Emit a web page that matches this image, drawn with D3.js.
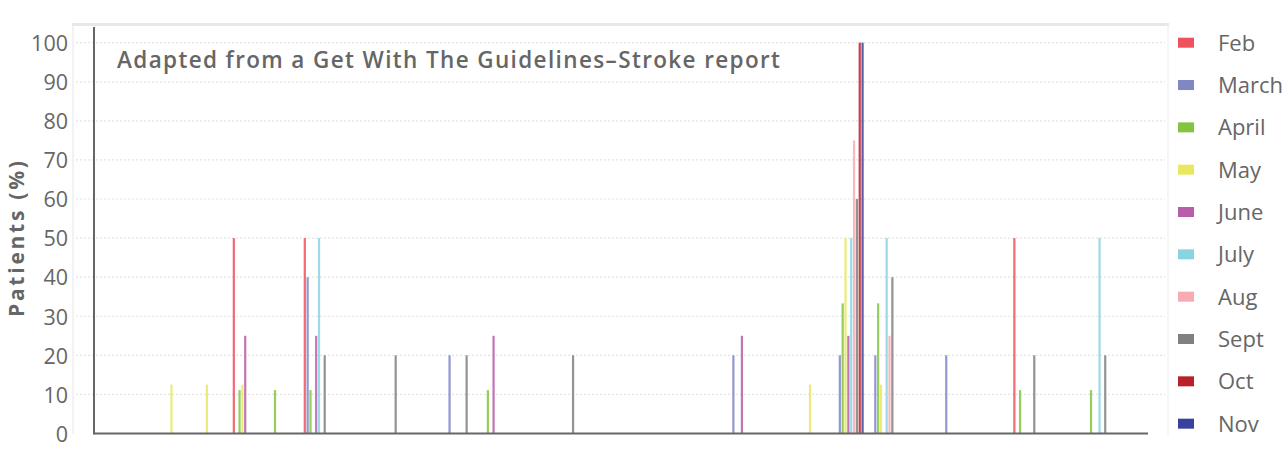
<!DOCTYPE html>
<html>
<head>
<meta charset="utf-8">
<script src="https://cdn.jsdelivr.net/npm/d3@7"></script>
<style>
  html, body { margin: 0; padding: 0; background: #ffffff; }
  svg { display: block; }
  text { font-family: "Open Sans", Lato, sans-serif; fill: #666666; }
</style>
</head>
<body>
<svg id="chart" width="1288" height="461"></svg>
<script>
// ---- data ----
const categories = ["1","2","3","4","5","6","7","8","9","10","11","12","13","14",
                    "15","16","17","18","19","20","21","22","23","24","25","26","27","28"];
const seriesNames = ["Feb","March","April","May","June","July","Aug","Sept","Oct","Nov"];
const seriesColors = ["#ef525d","#7f87c5","#84c440","#e9e862","#b85ea8","#8ad4e2","#f8abb0","#808080","#b92029","#3a419a"];
const feb   = [0,0,0,50,0,50,0,0,0,0, 0,0,0,0,0,0,0,0,0,0, 0,0,0,0,0,50,0,0];
const march = [0,0,0,0,0,40,0,0,0,20, 0,0,0,0,0,0,0,20,0,0, 20,20,0,20,0,0,0,0];
const april = [0,0,0,11.1,11.1,11.1,0,0,0,0, 11.1,0,0,0,0,0,0,0,0,0, 33.3,33.3,0,0,0,11.1,0,11.1];
const may   = [0,12.5,12.5,12.5,0,0,0,0,0,0, 0,0,0,0,0,0,0,0,0,12.5, 50,12.5,0,0,0,0,0,0];
const june  = [0,0,0,25,0,25,0,0,0,0, 25,0,0,0,0,0,0,25,0,0, 25,0,0,0,0,0,0,0];
const july  = [0,0,0,0,0,50,0,0,0,0, 0,0,0,0,0,0,0,0,0,0, 50,50,0,0,0,0,0,50];
const aug   = [0,0,0,0,0,0,0,0,0,0, 0,0,0,0,0,0,0,0,0,0, 75,25,0,0,0,0,0,0];
const sept  = [0,0,0,0,0,20,0,20,0,20, 0,0,20,0,0,0,0,0,0,0, 60,40,0,0,0,20,0,20];
const oct   = [0,0,0,0,0,0,0,0,0,0, 0,0,0,0,0,0,0,0,0,0, 100,0,0,0,0,0,0,0];
const nov   = [0,0,0,0,0,0,0,0,0,0, 0,0,0,0,0,0,0,0,0,0, 100,0,0,0,0,0,0,0];
const yTicks = [0,10,20,30,40,50,60,70,80,90,100];
const yTitle = "Patients (%)";
const note = "Adapted from a Get With The Guidelines\u2013Stroke report";

const seriesValues = [feb, march, april, may, june, july, aug, sept, oct, nov];

// ---- layout ----
const svg = d3.select("#chart");
const plot = { left: 94, right: 1147, top: 42.7, bottom: 433.5 };

const x0 = d3.scaleBand().domain(categories)
  .range([plot.left, plot.right]).paddingInner(0.2).paddingOuter(0.94).align(0.48);
const x1 = d3.scaleBand().domain(seriesNames)
  .range([0, x0.bandwidth()]).paddingInner(0.22).paddingOuter(0.1);
const y = d3.scaleLinear().domain([0, 100]).range([plot.bottom, plot.top]);
const color = d3.scaleOrdinal().domain(seriesNames).range(seriesColors);

// panel frame
svg.append("line").attr("x1", 72).attr("x2", 1169).attr("y1", 24.5).attr("y2", 24.5)
  .attr("stroke", "#e8e8e8").attr("stroke-width", 3);
svg.append("line").attr("x1", 73).attr("x2", 73).attr("y1", 24).attr("y2", 434)
  .attr("stroke", "#e6e6e6").attr("stroke-width", 1);
svg.append("line").attr("x1", 1168).attr("x2", 1168).attr("y1", 24).attr("y2", 435)
  .attr("stroke", "#ececec").attr("stroke-width", 1);

// grid
svg.append("g").selectAll("line").data(yTicks.filter(d => d > 0)).join("line")
  .attr("x1", 76).attr("x2", 1165)
  .attr("y1", d => y(d)).attr("y2", d => y(d))
  .attr("stroke", "#e4e4e4").attr("stroke-width", 1.2).attr("stroke-dasharray", "2,2");

// y tick labels via axis
const yAxis = d3.axisLeft(y).tickValues(yTicks).tickSize(0).tickPadding(0);
const yg = svg.append("g").attr("transform", "translate(68,0)").call(yAxis);
yg.select(".domain").remove();
yg.selectAll("text").attr("font-size", 21.5).attr("fill", "#666").attr("dy", "0.36em")
  .style("font-family", "'Open Sans', sans-serif");

// bars
const rows = categories.map((c, i) => ({ cat: c, vals: seriesNames.map((s, j) => ({ s, v: seriesValues[j][i] })) }));
const groups = svg.append("g").selectAll("g").data(rows).join("g")
  .attr("transform", d => `translate(${x0(d.cat)},0)`);
groups.selectAll("rect").data(d => d.vals.filter(e => e.v > 0)).join("rect")
  .attr("x", d => x1(d.s))
  .attr("width", x1.bandwidth())
  .attr("y", d => y(d.v))
  .attr("height", d => y(0) - y(d.v))
  .attr("fill", d => color(d.s))
  .attr("fill-opacity", 0.85);

// axes lines
svg.append("line").attr("x1", plot.left).attr("x2", plot.left).attr("y1", 27).attr("y2", plot.bottom + 1)
  .attr("stroke", "#666").attr("stroke-width", 2);
svg.append("line").attr("x1", plot.left).attr("x2", plot.right + 1).attr("y1", plot.bottom).attr("y2", plot.bottom)
  .attr("stroke", "#666").attr("stroke-width", 2);

// note
svg.append("text").attr("x", 117).attr("y", 68).attr("font-size", 22.5).attr("font-weight", 600)
  .attr("textLength", 663).attr("lengthAdjust", "spacing")
  .attr("fill", "#666").text(note);

// y title
svg.append("text").attr("transform", "translate(24,239) rotate(-90)")
  .attr("text-anchor", "middle").attr("font-size", 21).attr("font-weight", 700)
  .attr("textLength", 156).attr("lengthAdjust", "spacing")
  .attr("fill", "#666").text(yTitle);

// legend
const legend = svg.append("g").selectAll("g").data(seriesNames).join("g")
  .attr("transform", (d, i) => `translate(1178,${42.7 + i * 42.33})`);
legend.append("rect").attr("x", 0).attr("y", -5).attr("width", 16).attr("height", 10)
  .attr("fill", d => color(d));
legend.append("text").attr("x", 40).attr("y", 0).attr("dy", "0.36em")
  .attr("font-size", 22).attr("fill", "#666").text(d => d);
</script>
</body>
</html>
